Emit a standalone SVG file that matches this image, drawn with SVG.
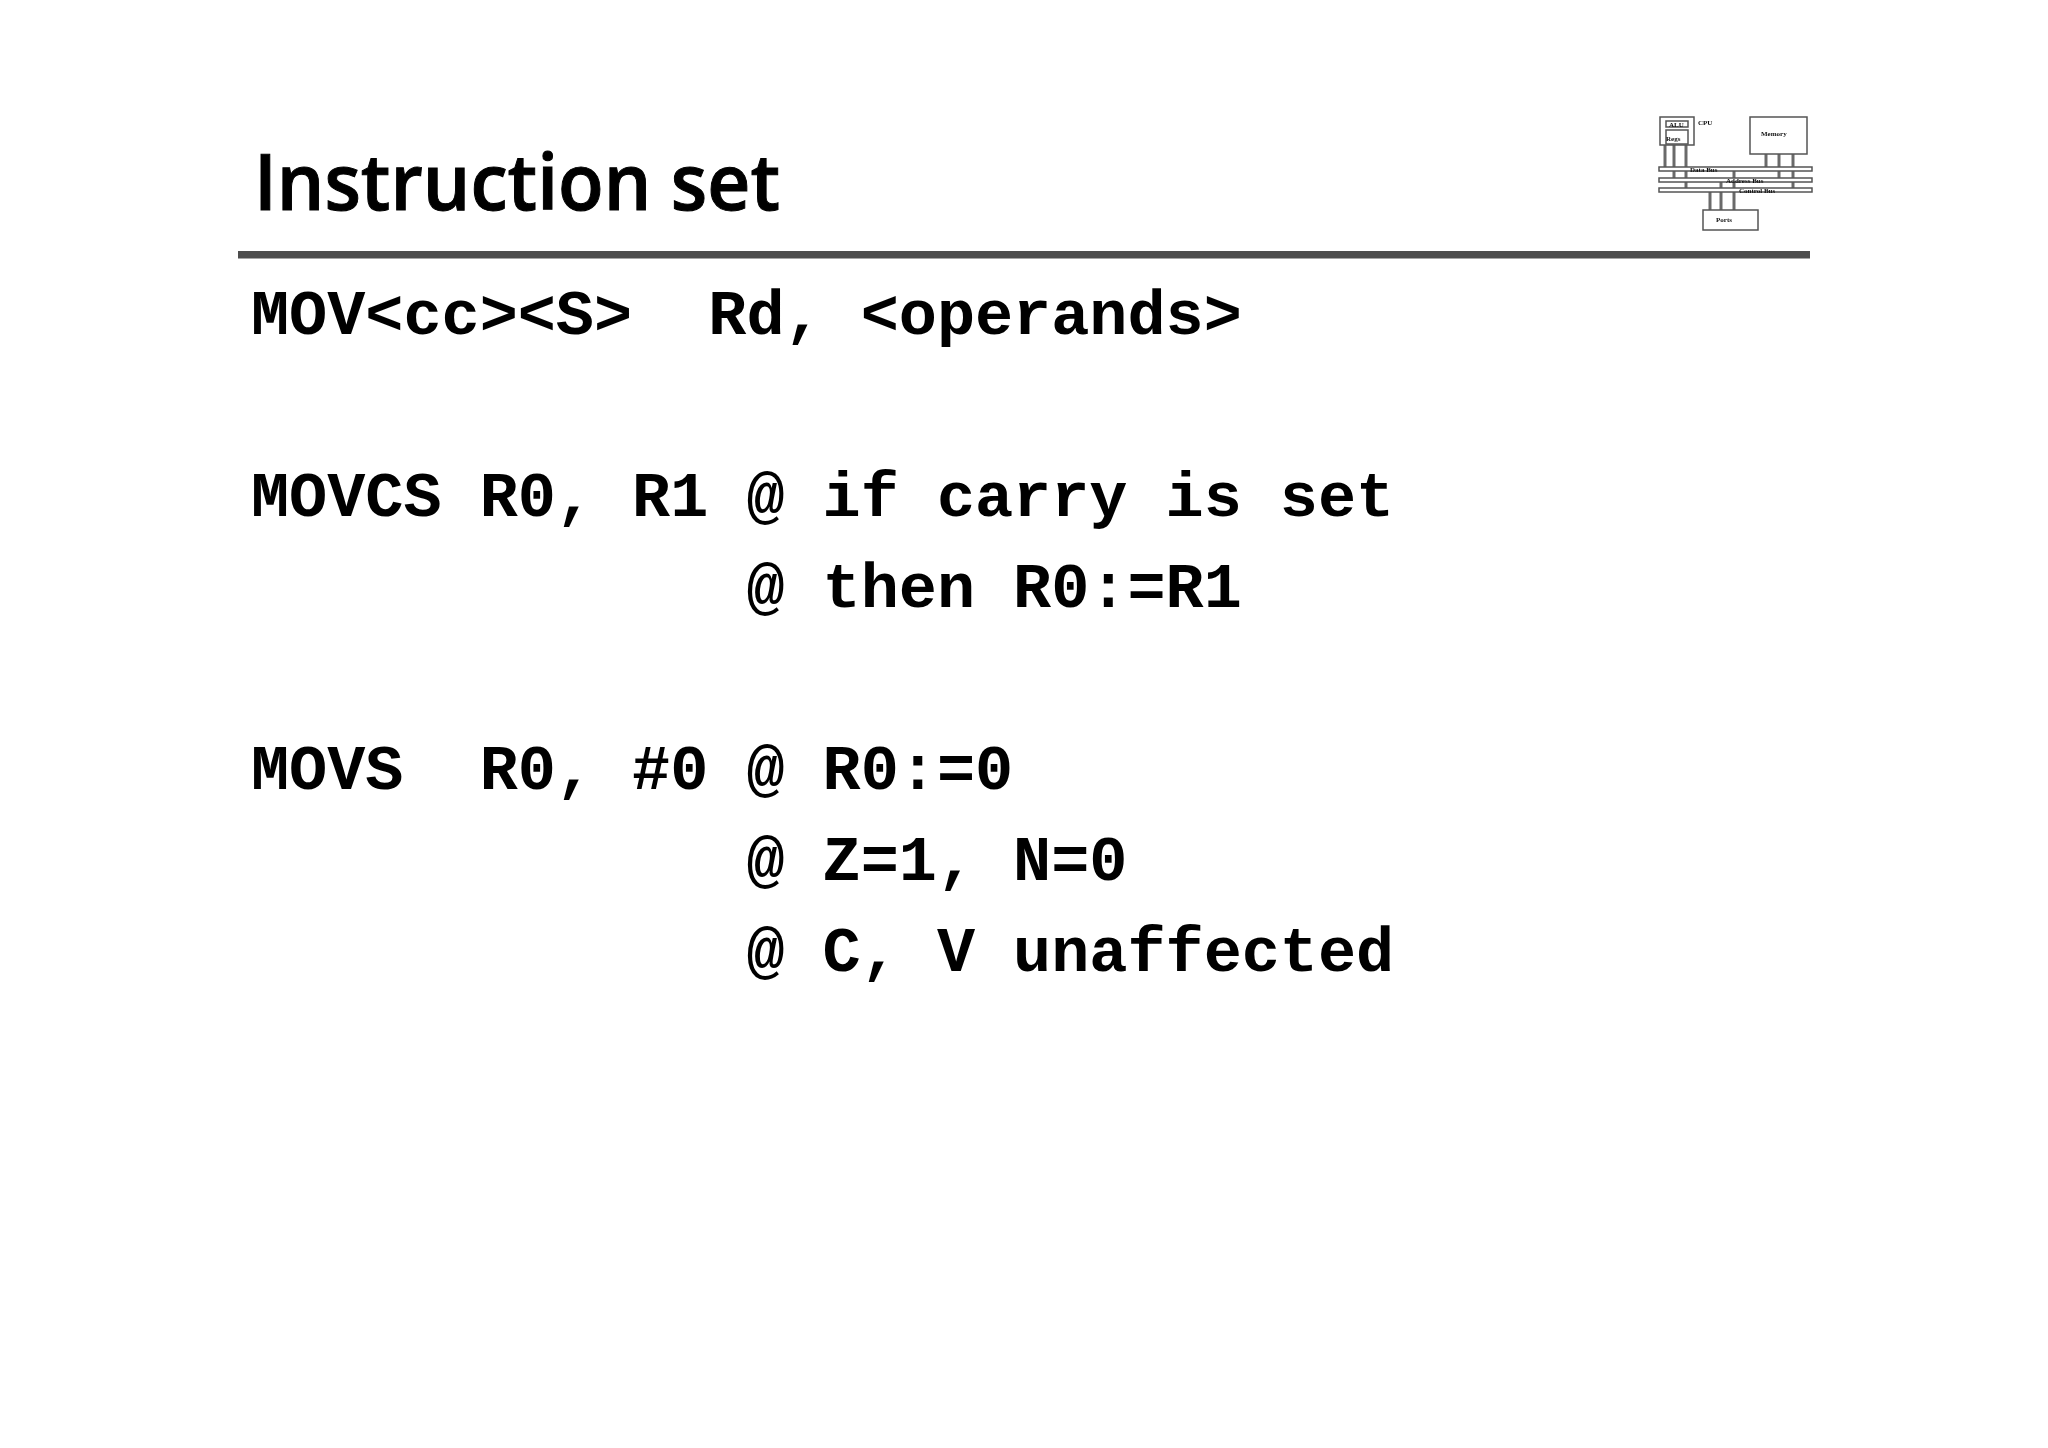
<svg xmlns="http://www.w3.org/2000/svg" width="2048" height="1448" viewBox="0 0 2048 1448">
<style>
.t{font-family:"Open Sans","Noto Sans",sans-serif;font-size:78px;font-weight:600;fill:#000;stroke:#000;stroke-width:1}
.c{font-family:"Liberation Mono",monospace;font-size:63.5px;font-weight:700;fill:#000;white-space:pre}
.b{fill:#fff;stroke:#555;stroke-width:1.5}
.w{stroke:#6a6a6a;stroke-width:3;fill:none}
.l{font-family:"Liberation Serif",serif;font-size:7px;font-weight:700;fill:#111}
</style>
<defs><filter id="soft" x="-5%" y="-5%" width="110%" height="110%"><feGaussianBlur stdDeviation="0.45"/></filter></defs>
<rect width="2048" height="1448" fill="#fff"/>
<text class="t" x="254" y="210" textLength="526" lengthAdjust="spacingAndGlyphs">Instruction set</text>
<rect x="238" y="251" width="1572" height="7.5" fill="#4d4d4d"/>
<g xml:space="preserve">
<text class="c" x="251" y="334">MOV&lt;cc&gt;&lt;S&gt;  Rd, &lt;operands&gt;</text>
<text class="c" x="251" y="516">MOVCS R0, R1 @ if carry is set</text>
<text class="c" x="251" y="607">             @ then R0:=R1</text>
<text class="c" x="251" y="789">MOVS  R0, #0 @ R0:=0</text>
<text class="c" x="251" y="880">             @ Z=1, N=0</text>
<text class="c" x="251" y="971">             @ C, V unaffected</text>
</g>
<g filter="url(#soft)">
<g id="connectors">
<path class="w" d="M1665 145V167M1674 145V178M1686 145V188M1766 154V167M1779 154V178M1793 154V188M1710 210V192M1721 210V182M1734 210V171"/>
</g>
<g id="buses">
<rect class="b" x="1659" y="167" width="153" height="4"/>
<rect class="b" x="1659" y="178" width="153" height="4"/>
<rect class="b" x="1659" y="188" width="153" height="4"/>
<text class="l" x="1690" y="172">Data Bus</text>
<text class="l" x="1726" y="183">Address Bus</text>
<text class="l" x="1739" y="193">Control Bus</text>
</g>
<g id="cpu">
<rect class="b" x="1660" y="117" width="34" height="28"/>
<rect class="b" x="1666" y="121" width="22" height="6"/>
<rect class="b" x="1666" y="130" width="22" height="14"/>
<text class="l" x="1669" y="127">ALU</text>
<text class="l" x="1666" y="141">Regs</text>
<text class="l" x="1698" y="125">CPU</text>
</g>
<g id="memory">
<rect class="b" x="1750" y="117" width="57" height="37"/>
<text class="l" x="1761" y="136">Memory</text>
</g>
<g id="ports">
<rect class="b" x="1703" y="210" width="55" height="20"/>
<text class="l" x="1716" y="222">Ports</text>
</g>
</g>
</svg>
